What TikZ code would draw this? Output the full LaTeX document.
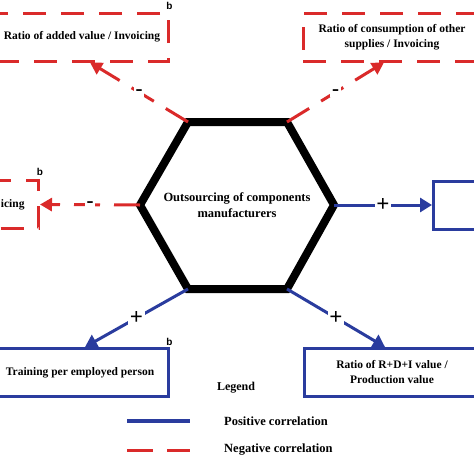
\documentclass[tikz,border=0pt]{standalone}
\usepackage{fontspec}
\setmainfont{Liberation Serif}
\setsansfont{Liberation Sans}
\usetikzlibrary{arrows.meta,calc}
\definecolor{negred}{RGB}{218,42,42}
\definecolor{posblue}{RGB}{42,60,158}
\begin{document}
\begin{tikzpicture}[x=1pt,y=-1pt,
  lbl/.style={font=\bfseries\fontsize{11.5}{15}\selectfont, align=center},
  negbox/.style={draw=negred, line width=3pt, dash pattern=on 23pt off 15pt, minimum height=48pt, inner sep=0pt},
  posbox/.style={draw=posblue, line width=3pt, minimum height=48pt, inner sep=0pt},
  negline/.style={draw=negred, line width=3pt, dash pattern=on 26pt off 14pt, -{Triangle[length=12pt,width=13pt]}},
  posline/.style={draw=posblue, line width=3pt, -{Triangle[length=12pt,width=14pt]}},
  sign/.style={fill=white, inner sep=1.5pt, font=\bfseries\fontsize{23}{23}\selectfont},
  msign/.style={fill=white, inner sep=2pt, font=\bfseries\fontsize{21}{21}\selectfont},
  blab/.style={font=\sffamily\bfseries\fontsize{10}{10}\selectfont, inner sep=1.5pt, anchor=south},
  legtxt/.style={font=\bfseries\fontsize{12.5}{14}\selectfont, anchor=west, inner sep=0pt}]
\useasboundingbox (0,0) rectangle (474,474);
\clip (0,0) rectangle (474,474);
% hexagon
\coordinate (hTL) at (188,122);
\coordinate (hTR) at (287,122);
\coordinate (hR) at (334,205);
\coordinate (hBR) at (287,289);
\coordinate (hBL) at (188,289);
\coordinate (hL) at (140,205);
\draw[line width=8pt, fill=white, line join=miter] (hTL)--(hTR)--(hR)--(hBR)--(hBL)--(hL)--cycle;
\node[font=\bfseries\fontsize{12.5}{16}\selectfont, align=center] (core) at (237,205) {Outsourcing of components\\manufacturers};
% boxes
\node[negbox, lbl, minimum width=172pt] (bTL) at (82,37) {Ratio of added value / Invoicing};
\node[negbox, lbl, minimum width=178pt] (bTR) at (392,37) {Ratio of consumption of other\\supplies / Invoicing};
\node[negbox, lbl, minimum width=190pt, text width=162pt, align=right, inner xsep=14pt, anchor=east] (bL) at (40,204.5) {icing};
\node[posbox, minimum width=180pt, anchor=west] (bR) at (432,205) {};
\node[posbox, lbl, minimum width=176pt] (bBL) at (80,372.5) {Training per employed person};
\node[posbox, lbl, minimum width=176pt] (bBR) at (392,372.5) {Ratio of R+D+I value /\\Production value};
% b labels
\node[blab] (b1) at (bTL.north east) {b};
\node[blab] (b2) at ([yshift=2pt]bL.north east) {b};
\node[blab] (b3) at (bBL.north east) {b};
% connectors
\draw[negline] (hTL) -- node[msign]{-} ([xshift=8pt]bTL.south);
\draw[negline] (hTR) -- node[msign]{-} ([xshift=-8pt]bTR.south);
\draw[negline] (hL) -- node[msign]{-} (bL.east);
\draw[posline] (hR) -- node[sign]{+} (bR.west);
\draw[posline] (hBL) -- node[sign]{+} ([xshift=5pt]bBL.north);
\draw[posline] (hBR) -- node[sign]{+} ([xshift=-7pt]bBR.north);
% legend
\node[font=\bfseries\fontsize{12}{14}\selectfont] (leg) at (236,388) {Legend};
\coordinate (p1) at (127,421);
\coordinate (p2) at (190,421);
\coordinate (n1) at (127,450);
\coordinate (n2) at (190,450);
\draw[posblue, line width=4.5pt] (p1) -- (p2);
\draw[negred, line width=3pt, dash pattern=on 26pt off 14pt] (n1) -- (n2);
\node[legtxt] (ptxt) at (224,421) {Positive correlation};
\node[legtxt] (ntxt) at (224,450) {Negative correlation};
\end{tikzpicture}
\end{document}
